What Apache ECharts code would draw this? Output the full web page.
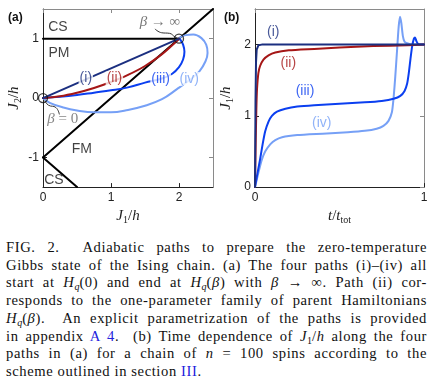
<!DOCTYPE html>
<html><head><meta charset="utf-8">
<script src="https://cdn.jsdelivr.net/npm/echarts@6/dist/echarts.min.js"></script>
<style>
html,body{margin:0;padding:0;background:#fff;width:434px;height:385px;overflow:hidden}
#chart{position:absolute;left:0;top:0;width:434px;height:230px}
#cap{position:absolute;left:6px;top:239px;width:421px;font-family:"Liberation Serif",serif;font-size:14.6px;line-height:17.7px;color:#111;letter-spacing:0.6px}
#cap .l{display:block;text-align:justify;text-align-last:justify}
#cap .last{display:block;text-align:left}
#cap sub{font-size:10px;line-height:0;vertical-align:-3px;letter-spacing:0}
#cap .b{color:#2222dd}
</style></head>
<body>
<div id="chart"></div>
<div id="cap">
<span class="l">FIG. 2.&nbsp; Adiabatic paths to prepare the zero-temperature</span>
<span class="l">Gibbs state of the Ising chain. (a) The four paths (i)–(iv) all</span>
<span class="l">start at <i>H</i><sub><i>q</i></sub>(0) and end at <i>H</i><sub><i>q</i></sub>(<i>β</i>) with <i>β</i> → ∞. Path (ii) cor-</span>
<span class="l">responds to the one-parameter family of parent Hamiltonians</span>
<span class="l"><i>H</i><sub><i>q</i></sub>(<i>β</i>).&nbsp; An explicit parametrization of the paths is provided</span>
<span class="l">in appendix <span class="b">A 4</span>.&nbsp; (b) Time dependence of <i>J</i><sub>1</sub>/<i>h</i> along the four</span>
<span class="l">paths in (a) for a chain of <i>n</i> = 100 spins according to the</span>
<span class="last">scheme outlined in section <span class="b">III</span>.</span>
</div>
<script>
// ---------- data: panel (a) ----------
const phaseLine1 = [[0,1],[2,1]];
const phaseLine2 = [[0,-1],[2.5,1.5]];
const phaseLine3 = [[0,-1],[0.5,-1.5]];
const pathI   = [[0,0],[2,1]];
const pathII  = [[0,0],[0.25,0.03],[0.5,0.09],[0.75,0.17],[1,0.27],[1.25,0.39],[1.5,0.54],[1.75,0.74],[2,1]];
const pathIII = [[0,0],[0.25,0.02],[0.5,0.05],[0.75,0.09],[1,0.13],[1.25,0.18],[1.5,0.26],[1.75,0.33],[1.9,0.41],[2.0,0.52],[2.06,0.65],[2.08,0.78],[2.06,0.9],[2.02,0.98],[2,1]];
const pathIV  = [[0,0],[0.1,-0.08],[0.3,-0.16],[0.5,-0.21],[0.75,-0.24],[1.0,-0.24],[1.25,-0.2],[1.5,-0.13],[1.75,-0.02],[1.97,0.15],[2.15,0.3],[2.3,0.45],[2.39,0.62],[2.42,0.76],[2.4,0.9],[2.33,1.01],[2.21,1.07],[2.1,1.06],[2.03,1.03],[2,1]];
const endPoints = [[0,0],[2,1]];
const ptrBetaInf  = [[1.65,1.16],[1.745,1.10],[1.86,1.09],[1.94,1.03],[1.985,1.005]];
const ptrBetaZero = [[0.03,-0.05],[0.08,-0.12],[0.19,-0.16],[0.24,-0.27]];
const regionLabels = [['CS',0.22,1.2],['PM',0.235,0.76],['FM',0.57,-0.855],['CS',0.16,-1.38]];
const pathLabelsA = [['(i)',0.63,0.33],['(ii)',1.05,0.33],['(iii)',1.73,0.32],['(iv)',2.15,0.32]];
const ticksAx = [0,1,2];
const ticksAy = [-1,0,1];
// ---------- data: panel (b) ----------
const tI   = [[0,0],[0.003,1.2],[0.006,1.75],[0.01,1.93],[0.02,1.99],[0.04,2.0],[1,2]];
const tII  = [[0,0],[0.004,0.6],[0.008,1.1],[0.012,1.38],[0.02,1.6],[0.03,1.7],[0.05,1.79],[0.08,1.85],[0.12,1.89],[0.2,1.92],[0.35,1.94],[0.5,1.96],[0.7,1.98],[0.9,1.99],[1,2]];
const tIII = [[0,0],[0.015,0.2],[0.03,0.39],[0.045,0.6],[0.06,0.78],[0.08,0.92],[0.1,1.0],[0.13,1.06],[0.18,1.1],[0.25,1.13],[0.35,1.15],[0.5,1.17],[0.65,1.19],[0.75,1.21],[0.82,1.24],[0.86,1.28],[0.885,1.35],[0.9,1.45],[0.91,1.6],[0.92,1.8],[0.93,1.98],[0.94,2.08],[0.947,2.1],[0.955,2.05],[0.965,2.01],[0.98,2.0],[1,2]];
const tIV  = [[0,0],[0.02,0.2],[0.04,0.38],[0.06,0.5],[0.09,0.6],[0.12,0.66],[0.16,0.7],[0.25,0.73],[0.4,0.75],[0.55,0.77],[0.65,0.79],[0.72,0.82],[0.76,0.86],[0.79,0.93],[0.81,1.05],[0.82,1.25],[0.83,1.55],[0.84,1.9],[0.85,2.25],[0.858,2.39],[0.866,2.3],[0.875,2.12],[0.885,2.04],[0.9,2.02],[0.93,2.0],[1,2]];
const pathLabelsB = [['(i)',0.108,2.18],['(ii)',0.197,1.74],['(iii)',0.296,1.35],['(iv)',0.395,0.9]];
const ticksBx = [0,1];
const ticksBy = [0,1,2];

const colors = ['#1b2f80','#a51616','#0b3ff0','#76a0f6'];
const SANS = '"Liberation Sans", Arial, sans-serif';
const SERIF = '"Liberation Serif", serif';

const chart = echarts.init(document.getElementById('chart'));

function mkAxis(gi, pos, min, max, ticks, isX, main, name, nameGap) {
  const ax = {
    type:'value', gridIndex: gi, position: pos, min, max,
    axisLine:{show:true, onZero:false, lineStyle:{color: main ? '#222' : '#8a8a8a', width:1}},
    axisTick:{show:true, inside:true, length:4, customValues: ticks, lineStyle:{color: main ? '#222':'#8a8a8a'}},
    axisLabel:{show: main, customValues: ticks, fontFamily:SANS, fontSize:12, color:'#222', margin: isX ? 5 : 4},
    splitLine:{show:false}
  };
  if (name) {
    ax.name = name; ax.nameLocation='middle'; ax.nameGap = nameGap;
    ax.nameTextStyle = {rich:{
      i:{fontFamily:SERIF, fontStyle:'italic', fontSize:15, color:'#222'},
      r:{fontFamily:SERIF, fontSize:15, color:'#222'},
      s:{fontFamily:SERIF, fontSize:10, color:'#222', padding:[7,0,0,0]}
    }};
  }
  return ax;
}

function lineS(data, color, xi, width, smooth, z) {
  return {type:'line', data, xAxisIndex:xi, yAxisIndex:xi, showSymbol:false, symbol:'none', smooth: smooth||false,
    lineStyle:{color, width: width||2, cap:'round', join:'round'}, z: z||2, silent:true, animation:false};
}
function textS(items, xi, colorFn, fontFamily, fontSize, bg) {
  return {type:'scatter', xAxisIndex:xi, yAxisIndex:xi, symbolSize:1, itemStyle:{color:'rgba(0,0,0,0)'}, z:10, silent:true, animation:false,
    data: items.map((d,k)=>({value:[d[1],d[2]], label:{show:true, position:'inside', formatter:d[0],
      color: colorFn(k), fontFamily, fontSize, backgroundColor: bg||'transparent', padding: bg ? [0,1] : 0}}))};
}

const option = {
  animation:false,
  title:[
    {text:'(a)', left:3, top:7, textStyle:{fontFamily:SANS, fontSize:12, fontWeight:'bold', color:'#111'}},
    {text:'(b)', left:219, top:7, textStyle:{fontFamily:SANS, fontSize:12, fontWeight:'bold', color:'#111'}}
  ],
  grid:[
    {left:43, top:9, width:170, height:180},
    {left:255, top:9, width:169, height:179.3}
  ],
  xAxis:[
    mkAxis(0,'bottom',0,2.5,ticksAx,true,true,'{i|J}{s|1}{r|/}{i|h}',8),
    mkAxis(0,'top',0,2.5,ticksAx,true,false),
    mkAxis(1,'bottom',0,1,ticksBx,true,true,'{i|t}{r|/}{i|t}{s|tot}',8),
    mkAxis(1,'top',0,1,ticksBx,true,false)
  ],
  yAxis:[
    mkAxis(0,'left',-1.5,1.5,ticksAy,false,true,'{i|J}{s|2}{r|/}{i|h}',20),
    mkAxis(0,'right',-1.5,1.5,ticksAy,false,false),
    mkAxis(1,'left',0,2.5,ticksBy,false,true,'{i|J}{s|1}{r|/}{i|h}',20),
    mkAxis(1,'right',0,2.5,ticksBy,false,false)
  ],
  series:[
    lineS(phaseLine1,'#000',0,2),
    lineS(phaseLine2,'#000',0,2),
    lineS(phaseLine3,'#000',0,2),
    lineS(pathIV,colors[3],0,2,0.4,3),
    lineS(pathIII,colors[2],0,2,0.4,3),
    lineS(pathII,colors[1],0,2,0.4,3),
    lineS(pathI,colors[0],0,2,false,3),
    lineS(ptrBetaInf,'#333',0,1,0.5,4),
    lineS(ptrBetaZero,'#333',0,1,0.5,4),
    {type:'scatter', data:endPoints, xAxisIndex:0, yAxisIndex:0, symbol:'circle', symbolSize:9, z:8, silent:true,
      itemStyle:{color:'rgba(0,0,0,0)', borderColor:'#111', borderWidth:1.3}},
    textS(regionLabels,0,()=> '#111',SANS,14),
    textS(pathLabelsA,0,k=>colors[k],SANS,14,'#fff'),
    textS([['{g|β} → ∞',1.72,1.28]],0,()=> '#555',SERIF,15),
    textS([['{g|β} = 0',0.29,-0.355]],0,()=> '#666',SERIF,15),
    lineS(tIV,colors[3],2,2,0.2,3),
    lineS(tIII,colors[2],2,2,0.2,3),
    lineS(tII,colors[1],2,2,0.2,3),
    lineS(tI,colors[0],2,2,false,3),
    textS(pathLabelsB,2,k=>colors[k],SANS,14)
  ]
};
option.series.forEach(s=>{ if(s.type==='scatter' && s.data && s.data[0] && s.data[0].label){ s.data.forEach(d=>{ d.label.rich={g:{fontFamily:SERIF,fontStyle:'italic',fontSize:15,color:d.label.color}}; }); }});
chart.setOption(option);
</script>
</body></html>
